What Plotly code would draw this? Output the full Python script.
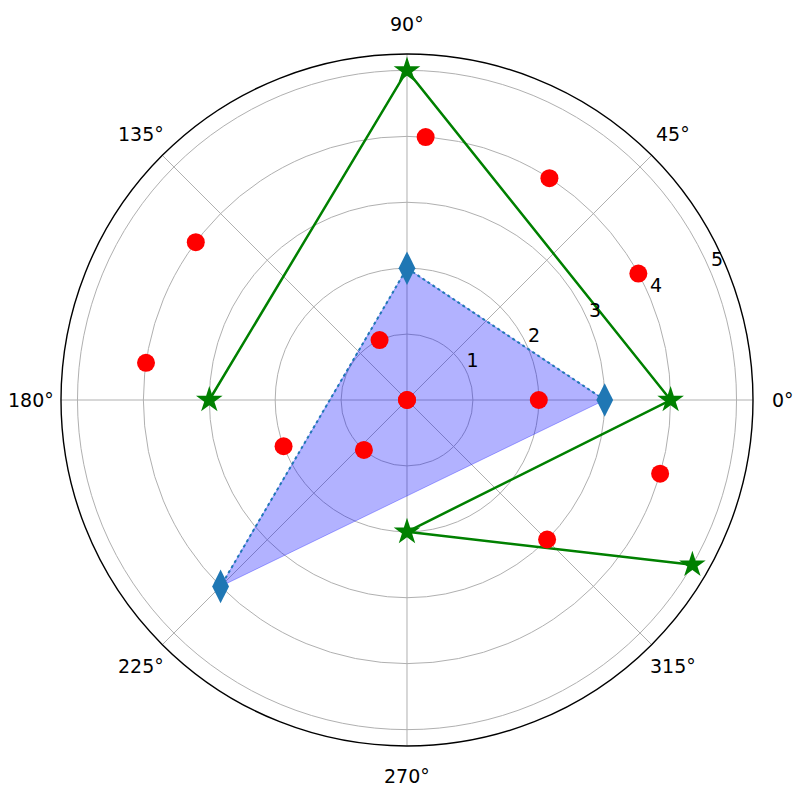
import numpy as np
import plotly.graph_objects as go

# red scatter points (theta in radians)
dot_theta = [0, 0.5, 1, 1.5, 2, 2.5, 3, 3.5, 4, 4.5, 5, 5.5, 6]
dot_r = [2, 4, 4, 4, 1, 4, 4, 2, 1, 0, 0, 3, 4]

# green star line
star_theta = [np.pi, np.pi / 2, 0, 3 * np.pi / 2, 11 * np.pi / 6]
star_r = [3, 5, 4, 2, 5]

# blue filled triangle
fill_theta = [0, np.pi / 2, 5 * np.pi / 4]
fill_r = [3, 2, 4]

angle_ticks = [0, 45, 90, 135, 180, 225, 270, 315]
angle_labels = [f"{a}°" for a in angle_ticks]
r_ticks = [1, 2, 3, 4, 5]
r_max = 5.25

W, H = 811, 790
dom_x = [0.06535, 0.91862]
dom_y = [0.06582, 0.94177]

fig = go.Figure()

fig.add_trace(go.Scatterpolar(
    r=fill_r + fill_r[:1], theta=fill_theta + fill_theta[:1], thetaunit="radians",
    mode="lines", fill="toself", fillcolor="rgba(0,0,255,0.3)",
    line=dict(color="rgba(0,0,255,0.3)", width=1), hoverinfo="skip"))

fig.add_trace(go.Scatterpolar(
    r=fill_r, theta=fill_theta, thetaunit="radians", mode="lines+markers",
    line=dict(color="#1f77b4", width=2, dash="dot"),
    marker=dict(symbol="diamond-tall", size=24, color="#1f77b4")))

fig.add_trace(go.Scatterpolar(
    r=star_r, theta=star_theta, thetaunit="radians", mode="lines+markers",
    line=dict(color="green", width=2.5),
    marker=dict(symbol="star", size=20, color="green")))

fig.add_trace(go.Scatterpolar(
    r=dot_r, theta=dot_theta, thetaunit="radians", mode="markers",
    marker=dict(symbol="circle", size=18, color="red")))

# radial tick labels, placed like matplotlib (just outside each ring, at 22.5 deg)
fig.add_trace(go.Scatterpolar(
    r=[t + 0.15 for t in r_ticks],
    theta=[22.5 + np.degrees(0.135 / t) for t in r_ticks],
    mode="text", text=[str(t) for t in r_ticks],
    textfont=dict(family="DejaVu Sans", size=19, color="black"),
    hoverinfo="skip"))

# angle labels centred on a fixed radius outside the frame
cx = (dom_x[0] + dom_x[1]) / 2 * W
cy = (dom_y[0] + dom_y[1]) / 2 * H
rad = (dom_x[1] - dom_x[0]) / 2 * W * 1.088
for a, lab in zip(angle_ticks, angle_labels):
    fig.add_annotation(
        x=(cx + rad * np.cos(np.radians(a))) / W,
        y=(cy + rad * np.sin(np.radians(a))) / H,
        xref="paper", yref="paper", text=lab, showarrow=False,
        xanchor="center", yanchor="middle",
        font=dict(family="DejaVu Sans", size=19, color="black"))

fig.update_layout(
    width=W, height=H,
    margin=dict(l=0, r=0, t=0, b=0),
    paper_bgcolor="white",
    showlegend=False,
    font=dict(family="DejaVu Sans", size=19, color="black"),
    polar=dict(
        domain=dict(x=dom_x, y=dom_y),
        bgcolor="white",
        angularaxis=dict(
            tickmode="array", tickvals=angle_ticks, showticklabels=False,
            direction="counterclockwise", rotation=0,
            showline=True, linecolor="black", linewidth=1.4,
            gridcolor="#b0b0b0", gridwidth=1.3, ticks=""),
        radialaxis=dict(
            range=[0, r_max], tickmode="array", tickvals=r_ticks,
            showticklabels=False, showline=False, ticks="",
            gridcolor="#b0b0b0", gridwidth=1.3),
    ),
)

fig.write_html("out.html")
